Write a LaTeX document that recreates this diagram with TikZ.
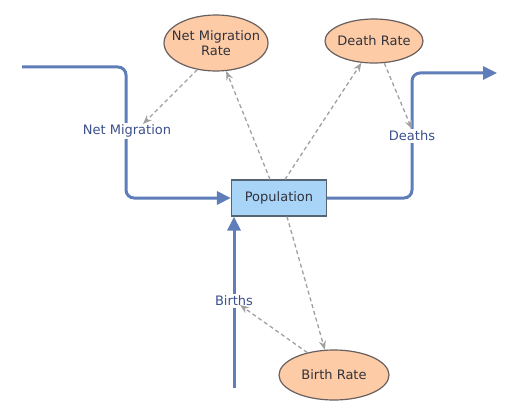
\documentclass[tikz,border=0pt]{standalone}
\usepackage{fontspec}
\setmainfont{DejaVu Sans}
\usetikzlibrary{arrows.meta,shapes.geometric,calc}
\definecolor{flowc}{RGB}{95,125,185}
\definecolor{labc}{RGB}{60,80,140}
\definecolor{peach}{RGB}{253,203,165}
\definecolor{ellb}{RGB}{105,95,95}
\definecolor{boxf}{RGB}{168,212,248}
\definecolor{boxb}{RGB}{85,100,115}
\definecolor{dashc}{RGB}{160,160,160}
\definecolor{txtc}{RGB}{50,50,60}
\begin{document}
\begin{tikzpicture}[x=1pt,y=-1pt,
  font=\fontsize{13pt}{15.5pt}\selectfont,
  rate/.style={ellipse,draw=ellb,fill=peach,line width=1.2pt,inner xsep=-10pt,inner ysep=0pt,text=txtc,align=center},
  stock/.style={rectangle,draw=boxb,fill=boxf,line width=1.2pt,minimum width=95pt,minimum height=36pt,text=txtc},
  flowline/.style={draw=flowc,line width=3pt,rounded corners=8pt,-{Triangle[length=14pt,width=13pt]}},
  flowlab/.style={fill=white,text=labc,inner sep=1.5pt},
  infl/.style={draw=dashc,line width=1.3pt,dash pattern=on 4pt off 3pt,-{Stealth[length=9pt,width=7pt]}}
]
\useasboundingbox (0,0) rectangle (521,409);
\node[rate,minimum width=104pt,minimum height=56pt] (nmr) at (216,43) {Net Migration\\Rate};
\node[rate,minimum width=98pt,minimum height=44pt] (dr) at (374,41) {Death Rate};
\node[rate,minimum width=110pt,minimum height=50pt] (br) at (334,375) {Birth Rate};
\node[stock] (pop) at (279,198) {Population};
\coordinate (inA) at (22,67);
\coordinate (inB) at (126,67);
\coordinate (outB) at (412,73);
\coordinate (outC) at (497,73);
\coordinate (bA) at (234,388);
% flows
\draw[flowline] (inA) -- (inB) |- (pop.west);
\draw[flowline] (pop.east) -| (outB) -- (outC);
\draw[flowline] (bA) -- (bA |- pop.south);
% labels
\node[flowlab] (nml) at (127,131) {Net Migration};
\node[flowlab] (dl) at (412,136) {Deaths};
\node[flowlab] (bl) at (234,301) {Births};
% influence arrows
\coordinate (nmtip) at ($(nml.north)+(16,1)$);
\coordinate (btip) at ($(bl.center)+(6,4)$);
\draw[infl] (nmr.235) -- (nmtip);
\draw[infl] ($(pop.north)+(-9,0)$) -- (nmr.290);
\draw[infl] ($(pop.north)+(6,0)$) -- (dr.240);
\draw[infl] (dr.295) -- (dl.north);
\draw[infl] ($(pop.south)+(8,0)$) -- (br.110);
\draw[infl] (br.140) -- (btip);
\end{tikzpicture}
\end{document}
